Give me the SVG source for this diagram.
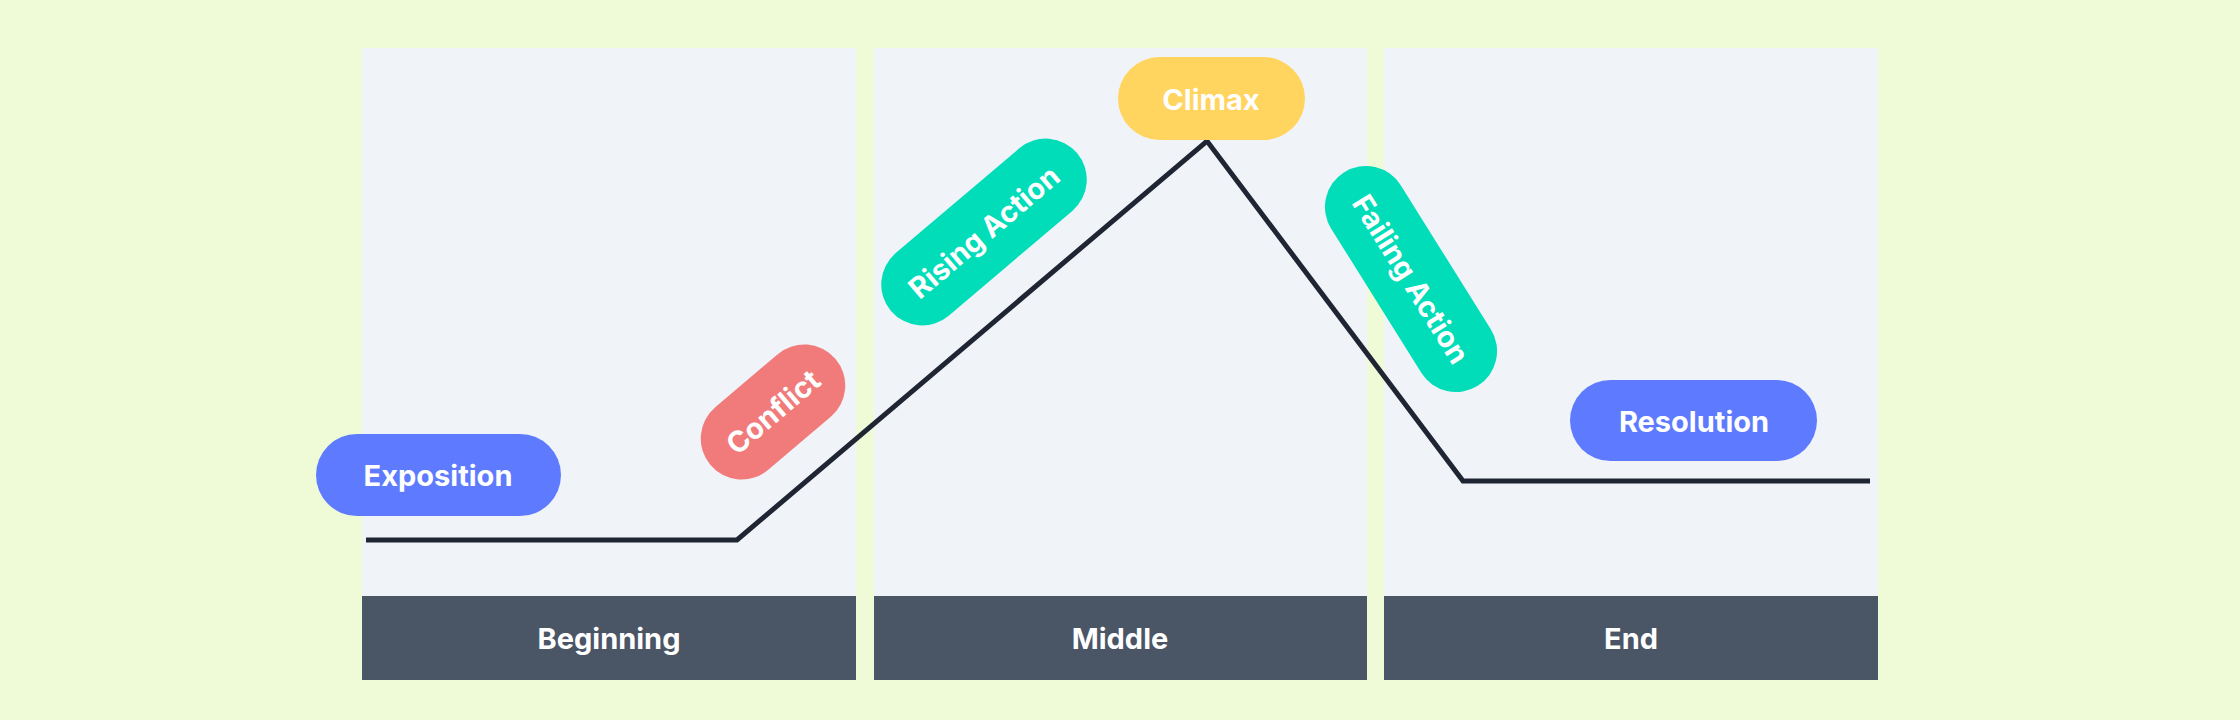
<svg xmlns="http://www.w3.org/2000/svg" width="2240" height="720" viewBox="0 0 2240 720">
<style>
.panel{fill:#f0f4f9}
.bar{fill:#4a5566}
.t{font-family:Inter,"Liberation Sans",sans-serif;font-weight:700;font-size:29px;fill:#fff;text-anchor:middle;dominant-baseline:central}
.line{fill:none;stroke:#1f2532;stroke-width:5;stroke-linejoin:miter}
</style>
<rect width="2240" height="720" fill="#effbd7"/>
<g id="beginning"><rect class="panel" x="362" y="48" width="494" height="632"/><rect class="bar" x="362" y="596" width="494" height="84"/><text class="t" x="609" y="638">Beginning</text></g>
<g id="middle"><rect class="panel" x="874" y="48" width="493" height="632"/><rect class="bar" x="874" y="596" width="493" height="84"/><text class="t" x="1120" y="638">Middle</text></g>
<g id="end"><rect class="panel" x="1384" y="48" width="494" height="632"/><rect class="bar" x="1384" y="596" width="494" height="84"/><text class="t" x="1631" y="638">End</text></g>
<g id="connectors"><polyline class="line" points="366,540 737,540 1207,141 1463,481 1870,481"/></g>
<g id="exposition"><rect x="316" y="434" width="245" height="82" rx="41" fill="#5e7bff"/><text class="t" x="438" y="475">Exposition</text></g>
<g id="conflict" transform="translate(773,412) rotate(-40.3)"><rect x="-82" y="-41" width="164" height="82" rx="41" fill="#f17b7b"/><text class="t" x="0" y="0">Conflict</text></g>
<g id="rising" transform="translate(984,232) rotate(-40.3)"><rect x="-122" y="-41" width="244" height="82" rx="41" fill="#00ddb8"/><text class="t" x="0" y="0">Rising Action</text></g>
<g id="climax"><rect x="1118" y="57" width="187" height="83" rx="41.5" fill="#ffd45f"/><text class="t" x="1211" y="99">Climax</text></g>
<g id="failing" transform="translate(1411,279) rotate(58)"><rect x="-126" y="-41" width="252" height="82" rx="41" fill="#00ddb8"/><text class="t" x="0" y="0">Failing Action</text></g>
<g id="resolution"><rect x="1570" y="380" width="247" height="81" rx="40.5" fill="#5e7bff"/><text class="t" x="1694" y="421">Resolution</text></g>
</svg>
